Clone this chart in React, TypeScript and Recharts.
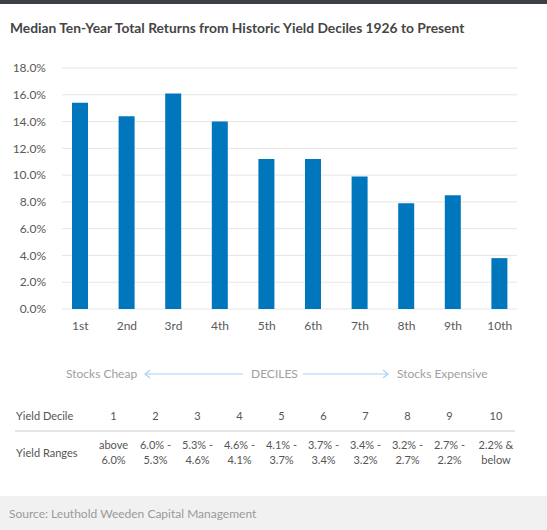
import { BarChart, Bar, XAxis, YAxis, CartesianGrid } from 'recharts'

// median ten-year total return (%) by yield decile
const deciles = ['1st', '2nd', '3rd', '4th', '5th', '6th', '7th', '8th', '9th', '10th']
const returns = [15.4, 14.4, 16.1, 14.0, 11.2, 11.2, 9.9, 7.9, 8.5, 3.8]
const yTicks = [0, 2, 4, 6, 8, 10, 12, 14, 16, 18]

// table under the chart
const decileNumbers = ['1', '2', '3', '4', '5', '6', '7', '8', '9', '10']
const rangeTop = ['above', '6.0% -', '5.3% -', '4.6% -', '4.1% -', '3.7% -', '3.4% -', '3.2% -', '2.7% -', '2.2% &']
const rangeBottom = ['6.0%', '5.3%', '4.6%', '4.1%', '3.7%', '3.4%', '3.2%', '2.7%', '2.2%', 'below']

const data = deciles.map((d, i) => ({ decile: d, value: returns[i] }))

const FONT = 'Lato, "Open Sans", sans-serif'
const colX = (i: number) => (i === 9 ? 496 : 113.5 + i * 42)

export default function App() {
  return (
    <div
      style={{
        position: 'absolute',
        left: 0,
        top: 0,
        width: 547,
        height: 530,
        background: '#fff',
        fontFamily: FONT,
        overflow: 'hidden',
      }}
    >
      <div style={{ position: 'absolute', left: 0, top: 0, width: 547, height: 4, background: '#3c3f44' }} />
      <div
        style={{
          position: 'absolute',
          left: 10,
          top: 19,
          fontSize: 13.8,
          fontWeight: 700,
          color: '#454545',
          whiteSpace: 'nowrap',
        }}
      >
        Median Ten-Year Total Returns from Historic Yield Deciles 1926 to Present
      </div>

      <div style={{ position: 'absolute', left: 0, top: 0 }}>
        <BarChart width={547} height={340} data={data} margin={{ top: 68, right: 24, left: 0, bottom: 1 }}>
          <CartesianGrid vertical={false} stroke="#e6e6e6" x={62} width={455} />
          <XAxis
            dataKey="decile"
            axisLine={false}
            tickLine={false}
            tickMargin={6}
            tick={{ fill: '#595959', fontSize: 12, fontFamily: FONT }}
          />
          <YAxis
            width={57}
            domain={[0, 18]}
            ticks={yTicks}
            axisLine={false}
            tickLine={false}
            tickMargin={5}
            tickFormatter={(v: number) => `${v.toFixed(1)}%`}
            tick={{ fill: '#595959', fontSize: 12, fontFamily: FONT }}
          />
          <Bar dataKey="value" fill="#0077bd" barSize={16} isAnimationActive={false} />
        </BarChart>
      </div>

      {/* cheap / expensive arrow row */}
      <svg style={{ position: 'absolute', left: 0, top: 360 }} width={547} height={30}>
        <g stroke="#a9d2f3" strokeWidth={1.2} fill="none">
          <line x1={145} y1={14} x2={243} y2={14} />
          <polyline points="150,10 145,14 150,18" />
          <line x1={303} y1={14} x2={388} y2={14} />
          <polyline points="383,10 388,14 383,18" />
        </g>
        <g fill="#a0a0a0" fontSize={12} fontFamily={FONT}>
          <text x={66} y={18}>Stocks Cheap</text>
          <text x={251} y={18}>DECILES</text>
          <text x={397} y={18}>Stocks Expensive</text>
        </g>
      </svg>

      {/* yield table */}
      <svg style={{ position: 'absolute', left: 0, top: 400 }} width={547} height={80}>
        <g fill="#555" fontSize={11} fontFamily={FONT}>
          <text x={16} y={19.5}>Yield Decile</text>
          <text x={16} y={57}>Yield Ranges</text>
          {decileNumbers.map((n, i) => (
            <text key={n} x={colX(i)} y={19.5} textAnchor="middle">
              {n}
            </text>
          ))}
          {rangeTop.map((t, i) => (
            <text key={'t' + i} x={colX(i)} y={49} textAnchor="middle">
              {t}
            </text>
          ))}
          {rangeBottom.map((t, i) => (
            <text key={'b' + i} x={colX(i)} y={64} textAnchor="middle">
              {t}
            </text>
          ))}
        </g>
        <line x1={15} y1={31} x2={515} y2={31} stroke="#cccccc" strokeWidth={1} />
      </svg>

      <div
        style={{
          position: 'absolute',
          left: 0,
          top: 496,
          width: 547,
          height: 34,
          background: '#f1f1f1',
        }}
      >
        <div style={{ position: 'absolute', left: 9, top: 10, fontSize: 12, color: '#9a9a9a', whiteSpace: 'nowrap' }}>
          Source: Leuthold Weeden Capital Management
        </div>
      </div>
    </div>
  )
}
